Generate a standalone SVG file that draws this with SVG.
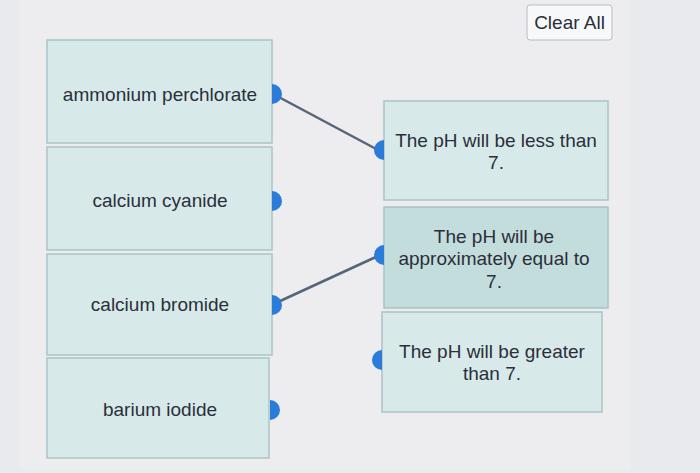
<svg xmlns="http://www.w3.org/2000/svg" width="700" height="473" viewBox="0 0 700 473">
<style>
.box{fill:#d8e9ea;stroke:#a9c4c8;stroke-width:1.5}
.sel{fill:#c3dcdc}
.t{font-family:"Liberation Sans",Arial,sans-serif;font-size:19px;fill:#2a2f3a}
.h{fill:#2b7cd8}
.c{stroke:#56657a;stroke-width:2.5;fill:none}
</style>
<rect width="700" height="473" fill="#e9eaee"/>
<rect x="20" y="0" width="610" height="470" fill="#ededf0"/>
<g id="clear"><rect x="527" y="5" width="85" height="35" rx="3" fill="#f7f8fa" stroke="#b8bcc4"/><text class="t" x="569.5" y="29" text-anchor="middle">Clear All</text></g>
<g id="connectors">
<line class="c" x1="275" y1="95" x2="378" y2="150"/>
<line class="c" x1="278" y1="302" x2="378" y2="256"/>
</g>
<g id="l1"><rect class="box" x="47" y="40" width="225" height="103"/><text class="t" x="160" y="101" text-anchor="middle">ammonium perchlorate</text><path class="h" d="M272,84 a10,10 0 0 1 0,20 z"/></g>
<g id="l2"><rect class="box" x="47" y="147" width="225" height="103"/><text class="t" x="160" y="207" text-anchor="middle">calcium cyanide</text><path class="h" d="M272,191 a10,10 0 0 1 0,20 z"/></g>
<g id="l3"><rect class="box" x="47" y="254" width="225" height="101"/><text class="t" x="160" y="311" text-anchor="middle">calcium bromide</text><path class="h" d="M272,295 a10,10 0 0 1 0,20 z"/></g>
<g id="l4"><rect class="box" x="47" y="358" width="222" height="100"/><text class="t" x="160" y="416" text-anchor="middle">barium iodide</text><path class="h" d="M270,400 a10,10 0 0 1 0,20 z"/></g>
<g id="r1"><rect class="box" x="384" y="101" width="224" height="99"/><text class="t" x="496" y="147" text-anchor="middle">The pH will be less than</text><text class="t" x="496" y="169" text-anchor="middle">7.</text><path class="h" d="M384,140 a10,10 0 0 0 0,20 z"/></g>
<g id="r2"><rect class="box sel" x="384" y="207" width="224" height="101"/><text class="t" x="494" y="243" text-anchor="middle">The pH will be</text><text class="t" x="494" y="265" text-anchor="middle">approximately equal to</text><text class="t" x="494" y="288" text-anchor="middle">7.</text><path class="h" d="M384,245 a10,10 0 0 0 0,20 z"/></g>
<g id="r3"><rect class="box" x="382" y="312" width="220" height="100"/><text class="t" x="492" y="358" text-anchor="middle">The pH will be greater</text><text class="t" x="492" y="380" text-anchor="middle">than 7.</text><path class="h" d="M382,350 a10,10 0 0 0 0,20 z"/></g>
</svg>
